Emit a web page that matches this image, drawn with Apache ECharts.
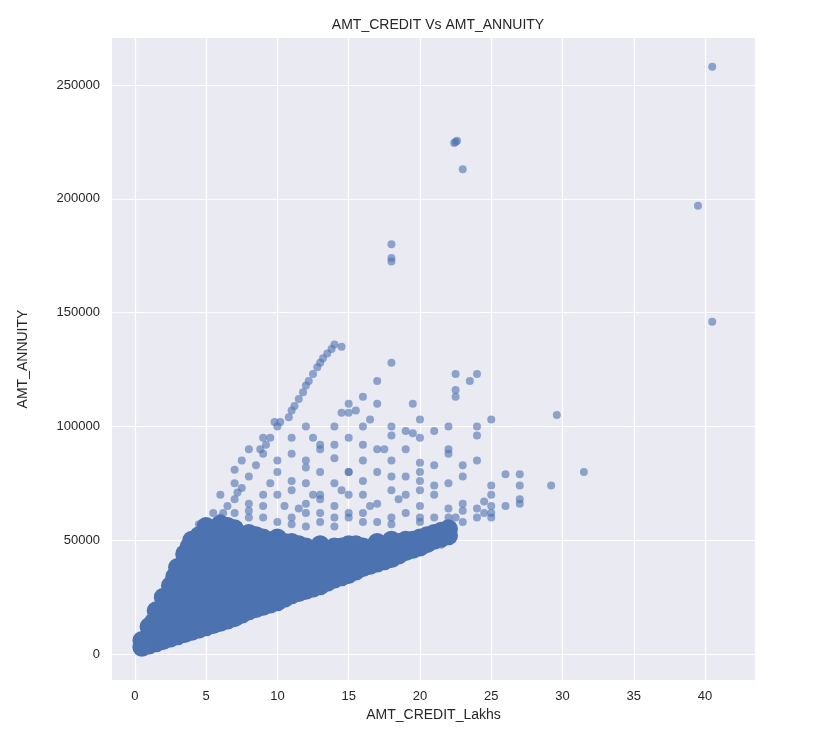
<!DOCTYPE html>
<html>
<head>
<meta charset="utf-8">
<script src="https://cdn.jsdelivr.net/npm/echarts@6/dist/echarts.min.js"></script>
<style>html,body{margin:0;background:#fff}#chart{width:813px;height:746px}</style>
</head>
<body>
<div id="chart"></div>
<script>
// dense core of the wedge (credit in lakhs, annuity)
const corePoints = [
  [0.5,3000],[0.5,6000],[1,4000],[1,8000],[1,12000],
  [1.5,5000],[1.5,10000],[1.5,15000],[1.5,19000],
  [2,6000],[2,11000],[2,16000],[2,21000],[2,25000],
  [2.5,7000],[2.5,12000],[2.5,18000],[2.5,24000],[2.5,30000],
  [3,8000],[3,13000],[3,18000],[3,23000],[3,28000],[3,33000],[3,38000],
  [3.5,9000],[3.5,20000],[3.5,30000],[3.5,40000],[3.5,44000],
  [4,10000],[4,15000],[4,20000],[4,25000],[4,30000],[4,35000],[4,40000],[4,45000],[4,50000],
  [5,12000],[5,17000],[5,22000],[5,27000],[5,32000],[5,37000],[5,42000],[5,47000],[5,52000],[5,56000],
  [6,14000],[6,19000],[6,24000],[6,29000],[6,34000],[6,39000],[6,44000],[6,49000],[6,54000],[6,57000],
  [7,16000],[7,21000],[7,26000],[7,31000],[7,36000],[7,41000],[7,46000],[7,51000],[7,55000],
  [8,19000],[8,24000],[8,29000],[8,34000],[8,39000],[8,44000],[8,49000],[8,53000],
  [9,21000],[9,26000],[9,31000],[9,36000],[9,41000],[9,46000],[9,51000],
  [10,23000],[10,28000],[10,33000],[10,38000],[10,43000],[10,48000],[10,51000],
  [11,26000],[11,31000],[11,36000],[11,41000],[11,46000],[11,49000],
  [12,28000],[12,33000],[12,38000],[12,43000],[12,47000],
  [13,30000],[13,35000],[13,40000],[13,45000],[13,48000],
  [14,33000],[14,38000],[14,43000],[14,47000],
  [15,35000],[15,40000],[15,45000],[15,48000],
  [16,38000],[16,43000],[16,47000],
  [17,40000],[17,45000],[17,49000],
  [18,42000],[18,47000],[18,50000],
  [19,45000],[19,50000],[20,47000],[20,51000],
  [21,50000],[21,53000],[22,52000],[22,55000]
];

// fill between core rows
const coreFill = [
  [0.8,4500],[1.2,6500],[1.3,14000],[1.8,9000],[1.8,18000],[2.2,14000],[2.2,23000],[2.8,10000],
  [2.8,27000],[2.8,34000],[3.3,11000],[3.3,25000],[3.3,36000],[3.8,13000],[3.8,42000],[3.8,47000],
  [4.5,11000],[4.5,16000],[4.5,24000],[4.5,34000],[4.5,44000],[4.5,52000],
  [5.5,13000],[5.5,20000],[5.5,30000],[5.5,40000],[5.5,50000],[5.5,55000],
  [6.5,15000],[6.5,22000],[6.5,32000],[6.5,42000],[6.5,52000],[6.5,56000],
  [7.5,17500],[7.5,24000],[7.5,34000],[7.5,44000],[7.5,52000],
  [8.5,20000],[8.5,27000],[8.5,37000],[8.5,47000],[8.5,52000],
  [9.5,22000],[9.5,29000],[9.5,39000],[9.5,49000],
  [10.5,24500],[10.5,31000],[10.5,41000],[10.5,49000],
  [11.5,27000],[11.5,34000],[11.5,44000],[11.5,48000],
  [12.5,29000],[12.5,36000],[12.5,45000],
  [13.5,31500],[13.5,38000],[13.5,46000],
  [14.5,34000],[14.5,41000],[14.5,47000],
  [15.5,36500],[15.5,44000],[15.5,48000],
  [16.5,39000],[16.5,46000],[17.5,41000],[17.5,48000],
  [18.5,43500],[18.5,49000],[19.5,46000],[19.5,50000],
  [20.5,48500],[20.5,52000],[21.5,51000],[21.5,54000]
];

// sparse points, rays and outliers
const sparsePoints = [
  [6,60000],[7,68000],[8,78000],[9,88000],[9.5,95000],[10,100000],[10.2,102000],[9.8,102000],
  [6.5,65000],[7.5,73000],[8.5,83000],[9.2,92000],[8.8,90000],[7.2,71000],[6.2,62000],
  [11,107000],[11.5,112000],[12,118000],[12.5,123000],[13,128000],[13.5,132000],[14,136000],[14.5,135000],
  [10.8,104000],[11.2,109000],[11.8,115000],[12.2,120000],[12.8,126000],[13.2,130000],[13.8,134000],
  [8,60000],[10,70000],[12,82000],[14,100000],[16,113000],[17,120000],[18,128000],
  [9,65000],[11,76000],[13,90000],[15,106000],
  [10,53000],[12,62000],[14,75000],[16,85000],[18,96000],[20,103000],
  [11,57000],[13,68000],[15,80000],[17,90000],[19,98000],
  [15,60000],[18,72000],[20,80000],[22,90000],[24,100000],[25,103000],
  [22.5,113000],[22.5,116000],[23.5,120000],[24,123000],
  [22.5,225000],[22.4,224500],[22.6,225500],[23,213000],[18,180000],[18,174000],[18,172500],
  [40.5,258000],[39.5,197000],[40.5,146000],[29.6,105000],[31.5,80000],[29.2,74000],
  [27,79000],[27,74000],[27,68000],[26,79000],[25,70000],[25,65000],[24,64000],[23,63000],
  [21.5,48000],[22.5,60000],[24.5,62000],[25,74000],[23,83000],[22,88000],[24,96000],
  [20,95000],[21,98000],[19.5,97000],[17,110000],[16.5,103000],[16,100000],[15,110000],
  [15.5,107000],[14.5,106000],[13,92000],[12,85000],[11,95000],[7,81000],[7.5,85000],
  [8,90000],[9,95000],[6,70000],[7,75000],[5.5,62000],[4.5,57000],[12,75000],[13,70000],
  [14,65000],[16,70000],[17,80000],[18,85000],[19,90000],[20,60000],[18,60000],[16,58000],
  [20,65000],[21,70000],[22,75000],[23,78000],[24,85000],[25,60000],[26,65000],[27,66000],
  [24.5,67000],[1.5,3500],[11,60000],[12,66000],[13,58000],[14,56000],[15,62000],[17,58000],
  [19,62000],[21,60000],[23,66000],[20,72000],[19,78000],[15,80000],[14,86000],[16,92000],
  [18,100000],[20,84000],[22,100000],[21,83000],[9,70000],[10,80000],[11,72000],[13,80000],
  [16.5,65000],[18.5,68000],[19.5,110000],[17.5,90000],[15,95000],[12,100000],[22,64000],
  [8,63000],[9,60000],[10,58000],[12,56000],[14,60000],[16,62000],[18,57000],[20,58000],
  [22,60000],[23,58000],[24,60000],[25,62000],[22.5,123000],[21,74000],[10.5,65000],[12.5,70000],
  [7,62000],[8,66000],[9.5,75000],[10,85000],[11,88000],[12.5,95000],[14,92000],[15,70000],
  [17,66000],[19,70000],[14.5,72000],[16,76000],[18,78000],[20,76000],[13,62000],[11.5,64000]
];

const xTicks = [0,5,10,15,20,25,30,35,40];
const yTicks = [0,50000,100000,150000,200000,250000];

const txt = '#262626';
const font = 'Liberation Sans';
const dot = { color: '#4C72B0', opacity: 1 };
const chart = echarts.init(document.getElementById('chart'));
chart.setOption({
  backgroundColor: '#fff',
  textStyle: { fontFamily: font },
  title: {
    text: 'AMT_CREDIT Vs AMT_ANNUITY', left: 433, top: 13, textAlign: 'center',
    textStyle: { fontSize: 14, fontWeight: 'normal', color: txt, fontFamily: font }
  },
  grid: { left: 112, right: 58, top: 38, bottom: 66, show: true, backgroundColor: '#EAEAF2', borderWidth: 0 },
  xAxis: {
    type: 'value', min: -1.6, max: 43.5,
    name: 'AMT_CREDIT_Lakhs', nameLocation: 'middle', nameGap: 28,
    nameTextStyle: { fontSize: 14, color: txt },
    axisLine: { show: false }, axisTick: { show: false, customValues: xTicks },
    axisLabel: { customValues: xTicks, color: txt, fontSize: 13, margin: 10 },
    splitLine: { lineStyle: { color: '#fff', width: 1.2 } }
  },
  yAxis: {
    type: 'value', min: -11400, max: 270650,
    name: 'AMT_ANNUITY', nameLocation: 'middle', nameGap: 82,
    nameTextStyle: { fontSize: 14, color: txt },
    axisLine: { show: false }, axisTick: { show: false, customValues: yTicks },
    axisLabel: { customValues: yTicks, color: txt, fontSize: 13, margin: 12, formatter: v => String(v) },
    splitLine: { lineStyle: { color: '#fff', width: 1.2 } }
  },
  series: [
    { type: 'scatter', data: corePoints, symbolSize: 19, silent: true, itemStyle: dot },
    { type: 'scatter', data: coreFill, symbolSize: 19, silent: true, itemStyle: dot },
    { type: 'scatter', data: sparsePoints, symbolSize: 8, silent: true,
      itemStyle: { color: '#4C72B0', opacity: 0.6 } }
  ]
});
</script>
</body>
</html>
